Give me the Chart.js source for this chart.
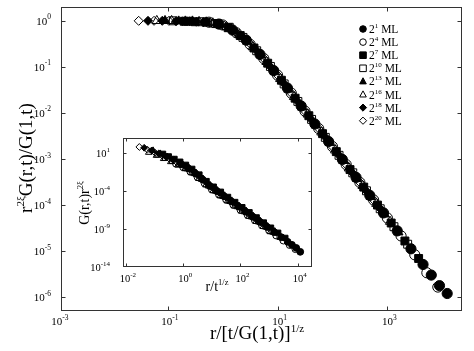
<!DOCTYPE html>
<html>
<head>
<meta charset="utf-8">
<script src="https://cdn.jsdelivr.net/npm/chart.js@4.4.0/dist/chart.umd.min.js"></script>
<style>
    html, body { margin: 0; padding: 0; background: #fff; }
    #wrap { position: relative; width: 474px; height: 351px; }
    #wrap canvas { position: absolute; left: 0; top: 0; }
</style>
</head>
<body>
<div id="wrap">
    <canvas id="main" width="474" height="351"></canvas>
    <canvas id="inset" width="474" height="351"></canvas>
</div>
<script>
/* ── Data (log10 values) ──────────────────────────────────────── */

// legend exponents: 2^n ML
const LEGEND_EXP = ['1', '4', '7', '10', '13', '16', '18', '20'];

// x = r/[t/G(1,t)]^(1/z) (main) and r/t^(1/z) (inset), log10
const LX_2_1  = [-0.07, 0.18, 0.43, 0.68, 0.93, 1.18, 1.43, 1.68, 1.93, 2.18, 2.43, 2.68, 2.93, 3.18, 3.43, 3.65, 3.80, 3.95, 4.09];
const LX_2_4  = [-0.25, 0.00, 0.25, 0.50, 0.75, 1.00, 1.25, 1.50, 1.75, 2.00, 2.25, 2.50, 2.75, 3.00, 3.25, 3.50, 3.72, 3.92];
const LX_2_7  = [-0.70, -0.50, -0.30, -0.10, 0.10, 0.32, 0.57, 0.82, 1.07, 1.32, 1.57, 1.82, 2.07, 2.32, 2.57, 2.82, 3.07, 3.32, 3.57];
const LX_2_10 = [-0.90, -0.63, -0.38, -0.13, 0.12, 0.37, 0.62, 0.87, 1.12, 1.37, 1.62, 1.87, 2.12, 2.37, 2.62, 2.87, 3.12, 3.37];
const LX_2_13 = [-1.05, -0.80, -0.55, -0.30, -0.05, 0.20, 0.45, 0.70, 0.95, 1.20, 1.45, 1.70, 1.95, 2.20, 2.45, 2.70, 2.95, 3.20];
const LX_2_16 = [-1.20, -0.93, -0.68, -0.43, -0.18, 0.07, 0.30, 0.55, 0.80, 1.05, 1.30, 1.55, 1.80, 2.05, 2.30, 2.55, 2.80, 3.05];
const LX_2_18 = [-1.36, -1.10, -0.85, -0.60, -0.35, -0.10, 0.13, 0.38, 0.63, 0.88, 1.13, 1.38, 1.63, 1.88, 2.13, 2.38, 2.63, 2.88];
const LX_2_20 = [-1.53, -1.25, -0.98, -0.73, -0.48, -0.23, 0.02, 0.25, 0.50, 0.75, 1.00, 1.25, 1.50, 1.75, 2.00, 2.25, 2.50, 2.75];

// main: r^(2xi) G(r,t)/G(1,t), log10
const MAIN_2_1  = [-0.07, -0.20, -0.42, -0.73, -1.08, -1.46, -1.85, -2.24, -2.62, -3.01, -3.40, -3.79, -4.17, -4.56, -4.95, -5.29, -5.52, -5.75, -5.92];
const MAIN_2_4  = [-0.03, -0.09, -0.26, -0.51, -0.82, -1.18, -1.57, -1.96, -2.34, -2.73, -3.12, -3.51, -3.89, -4.28, -4.67, -5.08, -5.47, -5.78];
const MAIN_2_7  = [-0.01, -0.02, -0.03, -0.06, -0.15, -0.32, -0.59, -0.92, -1.29, -1.68, -2.06, -2.45, -2.84, -3.23, -3.61, -4.00, -4.39, -4.78, -5.16];
const MAIN_2_10 = [0.00, -0.01, -0.02, -0.06, -0.14, -0.36, -0.65, -0.99, -1.37, -1.75, -2.14, -2.53, -2.92, -3.30, -3.69, -4.08, -4.47, -4.85];
const MAIN_2_13 = [0.00, -0.01, -0.01, -0.03, -0.08, -0.21, -0.45, -0.75, -1.11, -1.49, -1.88, -2.27, -2.65, -3.04, -3.43, -3.82, -4.20, -4.59];
const MAIN_2_16 = [0.00, 0.00, -0.01, -0.02, -0.05, -0.13, -0.30, -0.57, -0.89, -1.26, -1.65, -2.03, -2.42, -2.81, -3.20, -3.58, -3.97, -4.36];
const MAIN_2_18 = [0.00, 0.00, -0.01, -0.01, -0.03, -0.07, -0.17, -0.37, -0.66, -1.01, -1.38, -1.77, -2.16, -2.54, -2.93, -3.32, -3.71, -4.09];
const MAIN_2_20 = [0.00, 0.00, 0.00, -0.01, -0.02, -0.04, -0.10, -0.26, -0.50, -0.82, -1.18, -1.57, -1.96, -2.34, -2.73, -3.12, -3.51, -3.89];

// inset: G(r,t) r^(2xi), log10
const INSET_2_1  = [-0.47, -1.02, -1.69, -2.48, -3.33, -4.01, -4.68, -5.36, -6.03, -6.71, -7.38, -8.06, -8.73, -9.41, -10.08, -10.68, -11.08, -11.49, -12.00];
const INSET_2_4  = [-0.39, -0.85, -1.43, -2.15, -2.98, -3.77, -4.45, -5.12, -5.80, -6.47, -7.15, -7.82, -8.50, -9.17, -9.85, -10.52, -11.11, -11.65];
const INSET_2_7  = [0.92, 0.58, 0.25, -0.12, -0.53, -1.06, -1.81, -2.67, -3.41, -4.08, -4.76, -5.43, -6.11, -6.78, -7.46, -8.13, -8.81, -9.48, -10.16];
const INSET_2_10 = [0.85, 0.40, -0.02, -0.46, -0.98, -1.61, -2.37, -3.25, -3.94, -4.62, -5.29, -5.97, -6.64, -7.32, -7.99, -8.67, -9.34, -10.02];
const INSET_2_13 = [1.33, 0.93, 0.52, 0.10, -0.36, -0.92, -1.60, -2.40, -3.24, -3.91, -4.59, -5.26, -5.94, -6.61, -7.29, -7.96, -8.64, -9.31];
const INSET_2_16 = [1.10, 0.70, 0.28, -0.13, -0.57, -1.06, -1.60, -2.35, -3.20, -3.96, -4.63, -5.31, -5.98, -6.66, -7.33, -8.01, -8.68, -9.36];
const INSET_2_18 = [1.71, 1.35, 0.97, 0.55, 0.13, -0.32, -0.80, -1.44, -2.21, -3.08, -3.77, -4.45, -5.12, -5.80, -6.47, -7.15, -7.82, -8.50];
const INSET_2_20 = [1.82, 1.47, 1.07, 0.67, 0.25, -0.18, -0.65, -1.18, -1.90, -2.73, -3.52, -4.20, -4.87, -5.55, -6.22, -6.90, -7.57, -8.25];

// tick exponents
const MAIN_X_TICKS  = [-3, -1, 1, 3];
const MAIN_Y_TICKS  = [0, -1, -2, -3, -4, -5, -6];
const INSET_X_TICKS = [-2, 0, 2, 4];
const INSET_Y_TICKS = [1, -4, -9, -14];

/* ── Styles ───────────────────────────────────────────────────── */

const X_SETS     = [LX_2_1, LX_2_4, LX_2_7, LX_2_10, LX_2_13, LX_2_16, LX_2_18, LX_2_20];
const MAIN_SETS  = [MAIN_2_1, MAIN_2_4, MAIN_2_7, MAIN_2_10, MAIN_2_13, MAIN_2_16, MAIN_2_18, MAIN_2_20];
const INSET_SETS = [INSET_2_1, INSET_2_4, INSET_2_7, INSET_2_10, INSET_2_13, INSET_2_16, INSET_2_18, INSET_2_20];

const SHAPES = ['circle', 'circle', 'rect', 'rect', 'triangle', 'triangle', 'rectRot', 'rectRot'];
const FILLED = [true, false, true, false, true, false, true, false];
const MAIN_R  = { circle: 5.1, rect: 5.6, triangle: 5.4, rectRot: 4.5 };
const INSET_R = { circle: 3.4, rect: 3.7, triangle: 3.8, rectRot: 3.4 };

const SERIF = '"Liberation Serif", "Times New Roman", "DejaVu Serif", serif';
const font = (px) => `${px}px ${SERIF}`;

function buildDatasets(ySets, radii, openFill) {
    return ySets.map((ys, k) => ({
        label: `2^${LEGEND_EXP[k]} ML`,
        data: X_SETS[k].map((lx, i) => ({ x: Math.pow(10, lx), y: Math.pow(10, ys[i]) })),
        pointStyle: SHAPES[k],
        pointRadius: radii[SHAPES[k]],
        backgroundColor: FILLED[k] ? '#000' : openFill,
        borderColor: '#000',
        borderWidth: 1,
        showLine: false,
    }));
}

/* ── Text helpers ─────────────────────────────────────────────── */

// parts: [text, fontSize, rise]
function drawParts(ctx, parts, x, y, align) {
    let total = 0;
    const widths = parts.map(([t, s]) => {
        ctx.font = font(s);
        const w = ctx.measureText(t).width;
        total += w;
        return w;
    });
    let cx = align === 'right' ? x - total : align === 'center' ? x - total / 2 : x;
    ctx.textAlign = 'left';
    ctx.textBaseline = 'alphabetic';
    parts.forEach(([t, s, rise], i) => {
        ctx.font = font(s);
        ctx.fillText(t, cx, y - (rise || 0));
        cx += widths[i];
    });
}

function powParts(exp, size, supSize, rise) {
    return [['10', size, 0], [String(exp), supSize, rise]];
}

function drawMarker(ctx, shape, filled, x, y, r) {
    ctx.beginPath();
    if (shape === 'circle') ctx.arc(x, y, r, 0, Math.PI * 2);
    else if (shape === 'rect') ctx.rect(x - r, y - r, 2 * r, 2 * r);
    else if (shape === 'triangle') {
        ctx.moveTo(x, y - r * 1.1); ctx.lineTo(x + r, y + r * 0.75); ctx.lineTo(x - r, y + r * 0.75); ctx.closePath();
    } else {
        ctx.moveTo(x, y - r); ctx.lineTo(x + r, y); ctx.lineTo(x, y + r); ctx.lineTo(x - r, y); ctx.closePath();
    }
    ctx.fillStyle = filled ? '#000' : '#fff';
    ctx.fill();
    ctx.strokeStyle = '#000';
    ctx.lineWidth = 1;
    ctx.stroke();
}

function drawFrame(chart, xExps, yExps, len) {
    const { ctx, chartArea: a, scales } = chart;
    const L = Math.round(a.left) + 0.5, R = Math.round(a.right) - 0.5;
    const T = Math.round(a.top) + 0.5, B = Math.round(a.bottom) - 0.5;
    ctx.save();
    ctx.strokeStyle = '#333';
    ctx.lineWidth = 1;
    ctx.strokeRect(L, T, R - L, B - T);
    ctx.beginPath();
    for (const e of xExps) {
        const px = Math.round(scales.x.getPixelForValue(Math.pow(10, e))) + 0.5;
        if (px <= L + 1 || px >= R - 1) continue;
        ctx.moveTo(px, B); ctx.lineTo(px, B - len);
        ctx.moveTo(px, T); ctx.lineTo(px, T + len);
    }
    for (const e of yExps) {
        const py = Math.round(scales.y.getPixelForValue(Math.pow(10, e))) + 0.5;
        if (py <= T + 1 || py >= B - 1) continue;
        ctx.moveTo(L, py); ctx.lineTo(L + len, py);
        ctx.moveTo(R, py); ctx.lineTo(R - len, py);
    }
    ctx.stroke();
    ctx.restore();
}

/* ── Plugins ──────────────────────────────────────────────────── */

const mainDecor = {
    id: 'mainDecor',
    afterDraw(chart) {
        const { ctx, chartArea: a, scales } = chart;
        drawFrame(chart, MAIN_X_TICKS, MAIN_Y_TICKS, 4);
        ctx.save();
        ctx.fillStyle = '#000';
        for (const e of MAIN_Y_TICKS) {
            const py = scales.y.getPixelForValue(Math.pow(10, e));
            drawParts(ctx, powParts(e, 11, 7.5, 5.5), 51, py + 4, 'right');
        }
        for (const e of MAIN_X_TICKS) {
            const px = scales.x.getPixelForValue(Math.pow(10, e));
            drawParts(ctx, powParts(e, 11, 7.5, 5.5), px + 2, a.bottom + 14, 'center');
        }
        // axis titles
        drawParts(ctx, [['r/[t/G(1,t)]', 19, 0], ['1/z', 11, 7]], 257, 339, 'center');
        ctx.save();
        ctx.translate(32, 158);
        ctx.rotate(-Math.PI / 2);
        drawParts(ctx, [['r', 19, 0], ['2ξ', 11, 8], ['G(r,t)/G(1,t)', 19, 0]], 0, 0, 'center');
        ctx.restore();
        // legend
        LEGEND_EXP.forEach((exp, k) => {
            const y = 29 + k * 13.1;
            drawMarker(ctx, SHAPES[k], FILLED[k], 363, y, SHAPES[k] === 'rectRot' ? 3.6 : 3.3);
            ctx.fillStyle = '#000';
            drawParts(ctx, [['2', 11.5, 0], [exp, 7, 5], [' ML', 11.5, 0]], 369, y + 4, 'left');
        });
        ctx.restore();
    }
};

const insetDecor = {
    id: 'insetDecor',
    beforeDraw(chart) {
        const { ctx, chartArea: a } = chart;
        ctx.save();
        ctx.fillStyle = '#fff';
        ctx.fillRect(a.left, a.top, a.right - a.left, a.bottom - a.top);
        ctx.restore();
    },
    afterDraw(chart) {
        const { ctx, chartArea: a, scales } = chart;
        drawFrame(chart, INSET_X_TICKS, INSET_Y_TICKS, 3);
        ctx.save();
        ctx.fillStyle = '#000';
        for (const e of INSET_Y_TICKS) {
            const py = scales.y.getPixelForValue(Math.pow(10, e));
            drawParts(ctx, powParts(e, 10.5, 7, 5.5), 110, py + 4, 'right');
        }
        for (const e of INSET_X_TICKS) {
            const px = scales.x.getPixelForValue(Math.pow(10, e));
            drawParts(ctx, powParts(e, 10.5, 7, 5.5), px + 2, a.bottom + 15, 'center');
        }
        drawParts(ctx, [['r/t', 14, 0], ['1/z', 8.5, 6]], 217, 291, 'center');
        ctx.save();
        ctx.translate(89, 203);
        ctx.rotate(-Math.PI / 2);
        drawParts(ctx, [['G(r,t)r', 14, 0], ['2ξ', 8.5, 6]], 0, 0, 'center');
        ctx.restore();
        ctx.restore();
    }
};

/* ── Charts ───────────────────────────────────────────────────── */

function logAxis(min, max) {
    return { type: 'logarithmic', min, max, display: false };
}

function makeChart(id, datasets, padding, xr, yr, plugin) {
    return new Chart(document.getElementById(id), {
        type: 'scatter',
        data: { datasets },
        options: {
            responsive: false,
            animation: false,
            events: [],
            layout: { padding },
            scales: { x: logAxis(xr[0], xr[1]), y: logAxis(yr[0], yr[1]) },
            plugins: { legend: { display: false }, tooltip: { enabled: false } },
        },
        plugins: [plugin],
    });
}

makeChart('main', buildDatasets(MAIN_SETS, MAIN_R, 'rgba(255,255,255,0)'),
    { left: 61, right: 12, top: 7, bottom: 40 },
    [Math.pow(10, -2.945), Math.pow(10, 4.36)], [Math.pow(10, -6.3), Math.pow(10, 0.3)], mainDecor);

makeChart('inset', buildDatasets(INSET_SETS, INSET_R, 'rgba(255,255,255,0)'),
    { left: 123, right: 162, top: 138, bottom: 84 },
    [Math.pow(10, -2.1), Math.pow(10, 4.5)], [1e-14, 1e3], insetDecor);
</script>
</body>
</html>
